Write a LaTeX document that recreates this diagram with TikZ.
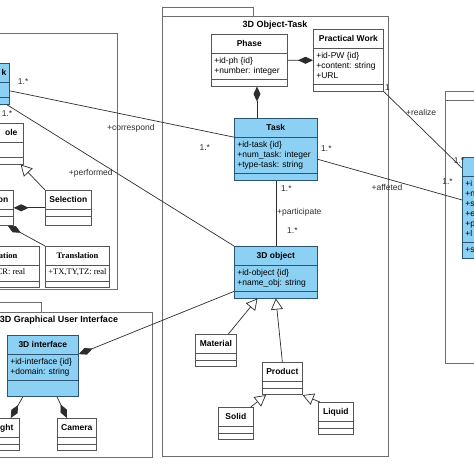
\documentclass[tikz,border=0pt]{standalone}
\usepackage{fontspec}
\setmainfont{Liberation Sans}
\newfontfamily\timesfont{Liberation Serif}
\usetikzlibrary{arrows.meta,shapes.multipart,calc}

\definecolor{classblue}{RGB}{140,208,243}
\definecolor{blueline}{RGB}{45,85,115}
\definecolor{grayline}{RGB}{85,85,85}
\definecolor{pkgline}{RGB}{110,110,110}
\definecolor{linecol}{RGB}{45,45,45}

\newcommand{\clshead}[1]{\rule[-3.5pt]{0pt}{12.5pt}\textbf{#1}}
\newcommand{\clsattr}[1]{\renewcommand{\arraystretch}{0.95}\begin{tabular}{@{}l@{}}#1\end{tabular}}
\newcommand{\clsnone}{\rule{0pt}{0.5pt}}

\begin{document}
\begin{tikzpicture}[x=1pt,y=-1pt,
    class/.style={rectangle split,rectangle split parts=3,draw=grayline,fill=white,
      anchor=north west,inner xsep=3pt,inner ysep=2.8pt,
      rectangle split part align={center,left,left},
      font=\fontsize{8.5}{10.5}\selectfont,line width=0.7pt},
    cut class/.style={class,rectangle split part align={right,right,left}},
    blue class/.style={class,fill=classblue,draw=blueline},
    serif class/.style={font=\timesfont\fontsize{8.5}{10}\selectfont},
    pkg/.style={draw=pkgline,line width=0.8pt},
    title/.style={font=\bfseries\fontsize{9}{11}\selectfont},
    assoc/.style={draw=linecol,line width=0.7pt},
    comp/.style={assoc,-{Diamond[length=15pt,width=7pt]}},
    gen/.style={assoc,-{Triangle[length=11pt,width=12pt,fill=white]}},
    lbl/.style={font=\fontsize{8.5}{10}\selectfont,inner sep=1pt,text=linecol}]
\useasboundingbox (0,0) rectangle (474,474);
\clip (0,0) rectangle (474,474);

% packages
\draw[pkg] (-10,33) rectangle (117,289);
\draw[pkg] (162,7) rectangle (253,16);
\draw[pkg] (162,16) rectangle (388,456);
\node[title] (objtask) at (275,25) {3D Object-Task};
\draw[pkg] (-10,302) rectangle (41,312);
\draw[pkg] (-10,312) rectangle (152,457);
\node[title] (guipkg) at (59,320) {3D Graphical User Interface};
\draw[pkg] (445,91) rectangle (490,100);
\draw[pkg] (445,100) rectangle (490,363);

% left package
\node[cut class,fill=classblue,draw=blueline,minimum width=59pt] (actor) at (-50,63)
  {\clshead{k}\nodepart{two}\rule{0pt}{9pt}\nodepart{three}\clsnone};
\node[cut class,minimum width=63pt] (role) at (-40,123)
  {\clshead{ole}\kern3pt\nodepart{two}\rule{0pt}{9pt}\nodepart{three}\clsnone};
\node[cut class,minimum width=63pt] (inter) at (-50,190)
  {\clshead{on}\kern2pt\nodepart{two}\clsnone\nodepart{three}\rule{0pt}{3pt}};
\node[class,minimum width=46pt] (select) at (45,190)
  {\clshead{Selection}\nodepart{two}\clsnone\nodepart{three}\rule{0pt}{3pt}};
\node[cut class,serif class,minimum width=79pt] (rotate) at (-40,246)
  {\clshead{ation}\kern19pt\nodepart{two}\clsattr{CR: real}\kern11pt\nodepart{three}\clsnone};
\node[class,serif class,minimum width=63pt] (transl) at (45,246)
  {\clshead{Translation}\nodepart{two}\clsattr{+TX,TY,TZ: real}\nodepart{three}\clsnone};

% 3D Object-Task
\node[class,minimum width=76pt] (phase) at (211,34)
  {\clshead{Phase}\nodepart{two}\clsattr{+id-ph \{id\}\\+number: integer}\nodepart{three}\clsnone};
\node[class,minimum width=70pt] (pwork) at (313,29)
  {\clshead{Practical Work}\nodepart{two}\clsattr{+id-PW \{id\}\\+content: string\\+URL}\nodepart{three}\clsnone};
\node[blue class,minimum width=83pt] (task) at (234,118)
  {\clshead{Task}\nodepart{two}\clsattr{+id-task \{id\}\\+num\_task: integer\\+type-task: string}\nodepart{three}\clsnone};
\node[blue class,minimum width=83pt] (object) at (234,246)
  {\clshead{3D object}\nodepart{two}\clsattr{+id-object \{id\}\\+name\_obj: string}\nodepart{three}\clsnone};
\node[class,minimum width=41pt] (material) at (195,334)
  {\clshead{Material}\nodepart{two}\clsnone\nodepart{three}\clsnone};
\node[class,minimum width=40pt] (product) at (262,362)
  {\clshead{Product}\nodepart{two}\clsnone\nodepart{three}\clsnone};
\node[class,minimum width=35pt] (solid) at (218,407)
  {\clshead{Solid}\nodepart{two}\clsnone\nodepart{three}\clsnone};
\node[class,minimum width=35pt] (liquid) at (318,402)
  {\clshead{Liquid}\nodepart{two}\clsnone\nodepart{three}\clsnone};

% 3D Graphical User Interface
\node[blue class,minimum width=71pt] (gui) at (7,335)
  {\clshead{3D interface}\nodepart{two}\clsattr{+id-interface \{id\}\\+domain: string}\nodepart{three}\rule{0pt}{10pt}};
\node[cut class,minimum width=49pt] (light) at (-30,418)
  {\clshead{ght}\kern3pt\nodepart{two}\clsnone\nodepart{three}\clsnone};
\node[class,minimum width=39pt] (camera) at (57,418)
  {\clshead{Camera}\nodepart{two}\clsnone\nodepart{three}\clsnone};

% right package
\node[blue class,minimum width=60pt,rectangle split part align={left,left,left}] (effect) at (462,157)
  {\clshead{}\nodepart{two}\clsattr{+i\\+n\\+s\\+e\\+p\\+l}\nodepart{three}\clsattr{+s}};

% associations
\draw[assoc] ($(actor.east)+(0,7)$) -- node[lbl,pos=0.06,above=8pt] {1.*}
  node[lbl,pos=0.54,below=7pt] {+correspond} node[lbl,pos=0.87,below=12pt] {1.*} (task.text split west);
\draw[assoc] ($(actor.south east)+(-3,0)$) -- node[lbl,pos=0.03,below left] {1.*}
  node[lbl,pos=0.37,below=11pt] {+performed} (object.north west);
\draw[assoc] ($(task.east)+(0,10)$) -- node[lbl,pos=0.06,above=9pt] {1.*}
  node[lbl,pos=0.48,below=4pt] {+affeted} node[lbl,pos=0.9,above=10pt] {1.*} ($(effect.west)+(0,-8)$);
\draw[assoc] (pwork.south east) -- node[lbl,pos=0,above right=0pt] {1}
  node[lbl,pos=0.27,right=0pt] {+realize} node[lbl,pos=1,above=3pt,xshift=-3pt] {1.*} ($(effect.north west)+(0,11)$);
\draw[assoc] (task.south) -- node[lbl,pos=0.13,right=4pt] {1.*}
  node[lbl,pos=0.49,right] {+participate} node[lbl,pos=0.76,right=10pt] {1.*} (object.north);

% compositions
\draw[comp] (phase.east) -- (pwork.west);
\coordinate (taskin) at ($(task.north west)+(23,0)$);
\draw[comp] (taskin) -- (taskin |- phase.south);
\draw[comp] (object.two split west) -- (gui.text split east);
\draw[comp] ($(gui.south west)!0.22!(gui.south east)$) -- ($(light.north east)+(-9,0)$);
\draw[comp] ($(gui.south west)!0.7!(gui.south east)$) -- ($(camera.north west)!0.25!(camera.north east)$);
\draw[comp] (select.west) -- (inter.east);
\draw[comp] (transl.north west) -- ($(inter.south east)+(-6,0)$);

% generalizations
\draw[gen] (select.north west) -- ($(role.south east)+(-3,0)$);
\draw[gen] ($(material.north west)!0.8!(material.north east)$) -- ($(object.south west)!0.28!(object.south east)$);
\draw[gen] (product.north) -- (object.south);
\draw[gen] ($(solid.north east)+(-3,0)$) -- ($(product.south west)+(4,0)$);
\draw[gen] ($(liquid.north west)+(2,0)$) -- (product.south east);
\end{tikzpicture}
\end{document}
